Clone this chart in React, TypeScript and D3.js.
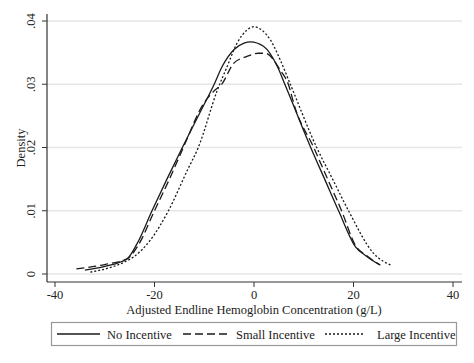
import * as d3 from "d3";

type Pt = [number, number];

// kernel density estimates: [hemoglobin g/L, density]
const noIncentive: Pt[] = [
  [-34, 0.0006], [-30, 0.0012], [-25.5, 0.0024], [-23.5, 0.0048], [-20.5, 0.01],
  [-17.5, 0.015], [-14.4, 0.02], [-11, 0.0253], [-8, 0.03], [-6.4, 0.0328],
  [-4, 0.0355], [-2, 0.0365], [-0.7, 0.0367], [1.9, 0.036], [4.7, 0.0328],
  [6.2, 0.03], [7.5, 0.0275], [11.4, 0.02], [14.2, 0.015], [17, 0.01],
  [20.4, 0.0043], [22.8, 0.0027], [25.4, 0.0014],
];

const smallIncentive: Pt[] = [
  [-35.7, 0.0008], [-30, 0.0015], [-25.5, 0.0024], [-23.3, 0.0045], [-20, 0.01],
  [-17, 0.015], [-14.2, 0.02], [-10.1, 0.027], [-8.2, 0.0288], [-6.4, 0.0301],
  [-4.1, 0.0333], [-1.4, 0.0344], [0.9, 0.0349], [2.3, 0.0349], [5.3, 0.0322],
  [6.9, 0.03], [8.2, 0.0264], [12, 0.02], [14.8, 0.015], [17.6, 0.01],
  [20.4, 0.0045], [22.8, 0.0028], [25.2, 0.0015],
];

const largeIncentive: Pt[] = [
  [-32.9, 0.0003], [-29, 0.001], [-25.5, 0.0021], [-24.2, 0.0027], [-20.8, 0.0054],
  [-17.2, 0.01], [-13.4, 0.0164], [-11.2, 0.02], [-7.4, 0.029], [-5.4, 0.0328],
  [-3.4, 0.0365], [-1.5, 0.0385], [0, 0.0391], [1.5, 0.0386], [3.3, 0.037],
  [5.3, 0.0338], [7.3, 0.03], [12.6, 0.02], [15.8, 0.015], [19, 0.01],
  [24, 0.0033], [27.8, 0.0013],
];

const xTicks = [-40, -20, 0, 20, 40];
const yTicks = [0, 0.01, 0.02, 0.03, 0.04];
const yTickLabels = ["0", ".01", ".02", ".03", ".04"];

const seriesNames = ["No Incentive", "Small Incentive", "Large Incentive"];
const seriesDash = ["none", "8,4", "2,2"];

const W = 474;
const H = 363;
const FONT = "'Liberation Serif', 'Times New Roman', serif";

export default function App() {
  const x = d3.scaleLinear().domain([-40, 40]).range([55, 453]);
  const y = d3.scaleLinear().domain([0, 0.04]).range([274, 21]);
  const plotLeft = 47;
  const plotRight = 462;
  const axisY = 282;

  const line = d3
    .line<Pt>()
    .x((d) => x(d[0]))
    .y((d) => y(d[1]))
    .curve(d3.curveMonotoneX);

  const series = [noIncentive, smallIncentive, largeIncentive];

  // legend layout
  const legendItems = [
    { x1: 57, x2: 100, tx: 107 },
    { x1: 183, x2: 228, tx: 236 },
    { x1: 325, x2: 364, tx: 377 },
  ];

  return (
    <svg
      width={W}
      height={H}
      style={{ position: "absolute", left: 0, top: 0, background: "#fff" }}
      fontFamily={FONT}
    >
      <rect width={W} height={H} fill="#fff" />

      {/* grid */}
      {yTicks.map((t) => (
        <line
          key={"g" + t}
          x1={plotLeft}
          x2={plotRight}
          y1={y(t)}
          y2={y(t)}
          stroke="#e6e6e6"
          strokeWidth={1.3}
        />
      ))}

      {/* y axis */}
      <line x1={plotLeft} x2={plotLeft} y1={14} y2={axisY} stroke="#333" strokeWidth={1.2} />
      {yTicks.map((t, i) => (
        <g key={"y" + t}>
          <line x1={plotLeft - 5} x2={plotLeft} y1={y(t)} y2={y(t)} stroke="#333" />
          <text
            transform={`translate(35,${y(t)}) rotate(-90)`}
            textAnchor="middle"
            fontSize={12.5}
            fill="#222"
          >
            {yTickLabels[i]}
          </text>
        </g>
      ))}
      <text
        transform={`translate(25,${(14 + axisY) / 2}) rotate(-90)`}
        textAnchor="middle"
        fontSize={12.5}
        fill="#222"
      >
        Density
      </text>

      {/* x axis */}
      <line x1={plotLeft} x2={plotRight} y1={axisY} y2={axisY} stroke="#333" strokeWidth={1.2} />
      {xTicks.map((t) => (
        <g key={"x" + t}>
          <line x1={x(t)} x2={x(t)} y1={axisY} y2={axisY + 5} stroke="#333" />
          <text x={x(t)} y={298.5} textAnchor="middle" fontSize={12.5} fill="#222">
            {t}
          </text>
        </g>
      ))}
      <text x={254} y={313.5} textAnchor="middle" fontSize={12.5} fill="#222">
        Adjusted Endline Hemoglobin Concentration (g/L)
      </text>

      {/* density curves */}
      {series.map((s, i) => (
        <path
          key={seriesNames[i]}
          d={line(s) ?? ""}
          fill="none"
          stroke="#1a1a1a"
          strokeWidth={1.3}
          strokeDasharray={seriesDash[i]}
        />
      ))}

      {/* legend */}
      <rect x={51.5} y={322.5} width={405} height={23} fill="#fff" stroke="#999" strokeWidth={1.2} />
      {legendItems.map((l, i) => (
        <g key={"l" + i}>
          <line
            x1={l.x1}
            x2={l.x2}
            y1={334}
            y2={334}
            stroke="#1a1a1a"
            strokeWidth={1.3}
            strokeDasharray={seriesDash[i]}
          />
          <text x={l.tx} y={338.5} fontSize={12.5} fill="#222">
            {seriesNames[i]}
          </text>
        </g>
      ))}
    </svg>
  );
}
